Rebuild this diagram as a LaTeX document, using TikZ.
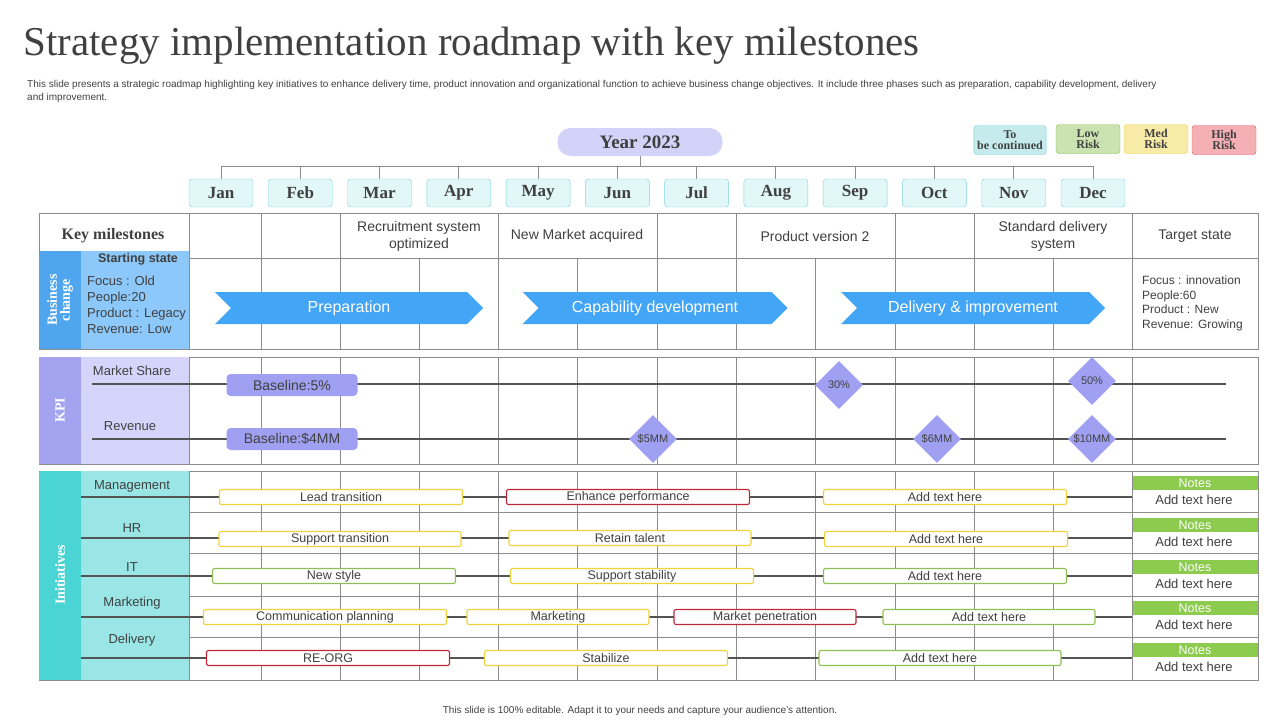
\documentclass[tikz,border=0pt]{standalone}
\usepackage{fontspec}
\setmainfont{Liberation Sans}
\newfontfamily\headfont{Liberation Serif}
\usetikzlibrary{shapes.geometric, shapes.symbols}
\definecolor{gridgray}{HTML}{8C8C8C}
\definecolor{monthfill}{HTML}{E2F7F8}
\definecolor{monthdraw}{HTML}{7FD3D6}
\definecolor{yearfill}{HTML}{D3D3FA}
\definecolor{bizdark}{HTML}{4FA6EE}
\definecolor{bizlight}{HTML}{8CC8FA}
\definecolor{chevfill}{HTML}{42A5F5}
\definecolor{kpidark}{HTML}{A3A3F0}
\definecolor{kpilight}{HTML}{D5D5FB}
\definecolor{kpimark}{HTML}{A0A0F2}
\definecolor{initdark}{HTML}{4AD4D4}
\definecolor{initlight}{HTML}{9AE6E6}
\definecolor{lowrisk}{HTML}{8CC152}
\definecolor{medrisk}{HTML}{F0D23C}
\definecolor{highrisk}{HTML}{C0283A}
\definecolor{hirisk}{HTML}{E8505A}
\definecolor{notesgreen}{HTML}{8CCB4E}
\definecolor{txtgray}{HTML}{404040}
\tikzset{
  month/.style={rectangle, rounded corners=3pt, draw=monthdraw, fill=monthfill,
    minimum width=64pt, minimum height=28pt, font=\headfont\bfseries\fontsize{17}{17}\selectfont, text=txtgray},
  celltext/.style={align=center, font=\fontsize{14}{17}\selectfont, text=txtgray},
  chevron/.style={signal, signal to=east, signal from=west, fill=chevfill, text=white,
    minimum height=32pt, inner sep=0pt, font=\fontsize{16}{16}\selectfont},
  baseline/.style={rectangle, rounded corners=4pt, fill=kpimark, minimum width=131pt,
    minimum height=22pt, font=\fontsize{14}{14}\selectfont, text=txtgray},
  kpidiamond/.style={diamond, fill=kpimark, minimum width=48pt, minimum height=48pt,
    inner sep=0pt, font=\fontsize{11}{11}\selectfont, text=txtgray},
  bar/.style={rectangle, rounded corners=2pt, fill=white, draw=#1, line width=1.1pt, minimum height=15pt,
    inner sep=0pt, font=\fontsize{12.5}{12.5}\selectfont, text=txtgray},
  legendbox/.style={rectangle, rounded corners=3pt, draw=#1, fill=#1!45, minimum width=64pt,
    minimum height=29pt, align=center, font=\headfont\bfseries\fontsize{12}{11}\selectfont, text=txtgray},
  sidelabel/.style={rotate=90, text=white, align=center, font=\headfont\bfseries\fontsize{14}{13}\selectfont},
  rowlabel/.style={font=\fontsize{13}{13}\selectfont, text=txtgray},
  gridline/.style={draw=gridgray, line width=0.8pt},
  trackline/.style={draw=txtgray!90, line width=2pt},
}
\begin{document}
\begin{tikzpicture}[x=1pt, y=-1pt]
\useasboundingbox (0,0) rectangle (1280,720);

% title and notes
\node (title) [anchor=west, font=\headfont\fontsize{41}{41}\selectfont, text=txtgray] at (20,46) {Strategy implementation roadmap with key milestones};
\node (intro) [anchor=north west, align=left, font=\fontsize{10}{13}\selectfont, text=txtgray, inner sep=0pt] at (27,80)
  {This slide presents a strategic roadmap highlighting key initiatives to enhance delivery time, product innovation and organizational function  to achieve business change objectives. It include three phases such as preparation, capability development,  delivery\\and improvement.};
\node (footer) [font=\fontsize{10}{10}\selectfont, text=txtgray] at (640,711) {This slide is 100\% editable.  Adapt it to your needs and capture your audience's attention.};

% legend
\node (tbc) [legendbox=monthdraw] at (1010,140) {To\\be continued};
\node (low) [legendbox=lowrisk] at (1088,139) {Low\\Risk};
\node (med) [legendbox=medrisk] at (1156,139) {Med\\Risk};
\node (high) [legendbox=hirisk] at (1224,140) {High\\Risk};

% year and months
\node (year) [rectangle, rounded corners=13pt, fill=yearfill, minimum width=165pt, minimum height=28pt,
  font=\headfont\bfseries\fontsize{19}{19}\selectfont, text=txtgray] at (640,142) {Year 2023};
\draw [gridline] (221,166) -- (1093,166);
\draw [gridline] (year.south) -- (640,166);
\foreach \m [count=\i] in {Jan,Feb,Mar,Apr,May,Jun,Jul,Aug,Sep,Oct,Nov,Dec} {
  \node (m\i) [month] at ({221+79.27*(\i-1)},193) {\m};
  \draw [gridline] (m\i.north) -- ++(0,-13);
}

% milestone row
\draw [gridline] (39,213) rectangle (1258,349);
\draw [gridline] (189,258) -- (1258,258);
\foreach \x in {189,261,340,498,657,736,895,974,1132}
  \draw [gridline] (\x,213) -- (\x,258);
\foreach \x in {189,261,340,419,498,577,657,736,815,895,974,1053,1132}
  \draw [gridline] (\x,258) -- (\x,349);
\node (keyms) [font=\headfont\bfseries\fontsize{16}{16}\selectfont, text=txtgray] at (113,236) {Key milestones};
\node (ms1) [celltext] at (419,236) {Recruitment system\\optimized};
\node (ms2) [celltext] at (577,236) {New Market  acquired};
\node (ms3) [celltext] at (815,236) {Product version  2};
\node (ms4) [celltext] at (1053,236) {Standard delivery\\system};
\node (target) [celltext] at (1195,236) {Target state};

% business change
\fill [bizdark] (39,251) rectangle (81,349);
\fill [bizlight] (81,251) rectangle (189,349);
\node (biz) [sidelabel] at (60,300) {Business\\change};
\node (start) [font=\bfseries\fontsize{12.5}{12.5}\selectfont, text=txtgray] at (138,259) {Starting state};
\node (startlist) [anchor=north west, align=left, inner sep=0pt, font=\fontsize{13}{16}\selectfont, text=txtgray] at (87,276)
  {Focus : Old\\People:20\\Product : Legacy\\Revenue:  Low};
\node (targetlist) [anchor=north west, align=left, inner sep=0pt, font=\fontsize{12}{14.5}\selectfont, text=txtgray] at (1142,276)
  {Focus : innovation\\People:60\\Product : New\\Revenue: Growing};
\node (prep) [chevron, minimum width=268pt] at (349,308) {Preparation};
\node (capab) [chevron, minimum width=265pt] at (655,308) {Capability development};
\node (deliv) [chevron, minimum width=264pt] at (973,308) {Delivery \& improvement};

% KPI
\draw [gridline] (39,357) rectangle (1258,464);
\foreach \x in {189,261,340,419,498,577,657,736,815,895,974,1053,1132}
  \draw [gridline] (\x,357) -- (\x,464);
\fill [kpidark] (39,357) rectangle (81,464);
\fill [kpilight] (81,357) rectangle (189,464);
\node (kpi) [sidelabel] at (60,410) {KPI};
\node (mshare) [rowlabel] at (132,371) {Market Share};
\node (rev) [rowlabel] at (130,426) {Revenue};
\coordinate (msstart) at (92,384);
\coordinate (msend) at (1226,384);
\coordinate (revstart) at (92,439);
\coordinate (revend) at (1226,439);
\draw [trackline] (msstart) -- (msend);
\draw [trackline] (revstart) -- (revend);
\node (base1) [baseline] at (292,385) {Baseline:5\%};
\node (base2) [baseline] at (292,439) {Baseline:\$4MM};
\node (k30) [kpidiamond] at (839,385) {30\%};
\node (k50) [kpidiamond] at (1092,381) {50\%};
\node (k5) [kpidiamond] at (653,439) {\$5MM};
\node (k6) [kpidiamond] at (937,439) {\$6MM};
\node (k10) [kpidiamond] at (1092,439) {\$10MM};

% initiatives
\draw [gridline] (39,471) rectangle (1258,680);
\foreach \x in {189,261,340,419,498,577,657,736,815,895,974,1053,1132}
  \draw [gridline] (\x,471) -- (\x,680);
\foreach \y in {512,553,596,637}
  \draw [gridline] (189,\y) -- (1258,\y);
\fill [initdark] (39,471) rectangle (81,680);
\fill [initlight] (81,471) rectangle (189,680);
\node (init) [sidelabel] at (60,575) {Initiatives};
\foreach \lbl/\ly/\ty [count=\r] in {Management/486/497, HR/528/538, IT/567/576, Marketing/603/617, Delivery/640/658} {
  \node (lbl\r) [rowlabel] at (132,\ly) {\lbl};
  \coordinate (rowstart\r) at (81,\ty);
  \coordinate (rowend\r) at (1132,\ty);
  \draw [trackline] (rowstart\r) -- (rowend\r);
}
\foreach \ny [count=\r] in {483,525,567,608,650} {
  \node (notes\r) [rectangle, fill=notesgreen, minimum width=125pt, minimum height=14pt, inner sep=0pt,
    font=\fontsize{12.5}{12.5}\selectfont, text=white] at (1195,\ny) {Notes};
  \node (notetext\r) [rowlabel] at (1194,\ny+17) {Add text here};
}
% bars
\node (b11) [bar=medrisk, minimum width=243pt] at (341,497) {Lead transition};
\node (b12) [bar=highrisk, minimum width=243pt] at (628,497) {Enhance  performance};
\node (b13) [bar=medrisk, minimum width=243pt] at (945,497) {Add text here};
\node (b21) [bar=medrisk, minimum width=242pt] at (340,539) {Support transition};
\node (b22) [bar=medrisk, minimum width=242pt] at (630,538) {Retain talent};
\node (b23) [bar=medrisk, minimum width=243pt] at (946,539) {Add text here};
\node (b31) [bar=lowrisk, minimum width=243pt] at (334,576) {New style};
\node (b32) [bar=medrisk, minimum width=243pt] at (632,576) {Support stability};
\node (b33) [bar=lowrisk, minimum width=243pt] at (945,576) {Add text here};
\node (b41) [bar=medrisk, minimum width=243pt] at (325,617) {Communication  planning};
\node (b42) [bar=medrisk, minimum width=182pt] at (558,617) {Marketing};
\node (b43) [bar=highrisk, minimum width=182pt] at (765,617) {Market penetration};
\node (b44) [bar=lowrisk, minimum width=212pt] at (989,617) {Add text here};
\node (b51) [bar=highrisk, minimum width=243pt] at (328,658) {RE-ORG};
\node (b52) [bar=medrisk, minimum width=243pt] at (606,658) {Stabilize};
\node (b53) [bar=lowrisk, minimum width=242pt] at (940,658) {Add text here};
\end{tikzpicture}
\end{document}
